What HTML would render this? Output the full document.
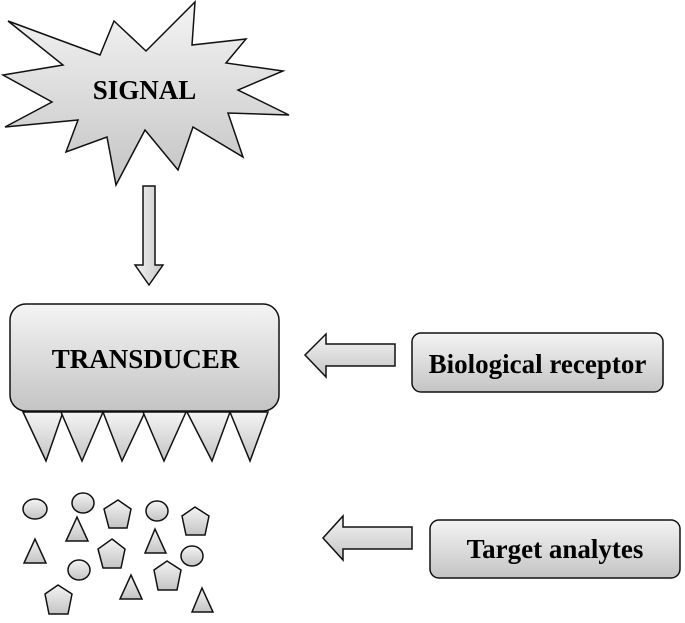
<!DOCTYPE html>
<html><head><meta charset="utf-8"><style>
html,body{margin:0;padding:0;background:#fff;}
svg{display:block;}
text{font-family:"Liberation Serif",serif;font-weight:bold;fill:#000;}
</style></head><body>
<svg width="685" height="623" viewBox="0 0 685 623" xmlns="http://www.w3.org/2000/svg">
<defs>
<linearGradient id="g" x1="0" y1="0" x2="0" y2="1">
<stop offset="0" stop-color="#f4f4f4"/><stop offset="1" stop-color="#c4c4c4"/>
</linearGradient>
<linearGradient id="gh" x1="0" y1="0" x2="1" y2="0">
<stop offset="0" stop-color="#f2f2f2"/><stop offset="1" stop-color="#c8c8c8"/>
</linearGradient>
</defs>
<g stroke="#111" stroke-width="1.5" fill="url(#g)" stroke-linejoin="miter">
<polygon points="8,21 100,55 114,21 146,51 195,2 192,45 246,39 226,63 283,71 238,90 289,115 228,113 243,157 193,127 178,170 145,130 116,185 107,137 66,152 78,120 5,127 52,102 3,75 63,65"/>
<polygon fill="url(#gh)" points="143,186 155,186 155,265 163,265 149,285 135,265 143,265"/>
<rect x="10" y="304" width="269" height="107" rx="16" ry="16"/>
<polygon points="23,412 63,412 46,461"/>
<polygon points="61,412 103,412 82,461"/>
<polygon points="103,412 145,412 122,461"/>
<polygon points="143,412 186,412 164,461"/>
<polygon points="187,412 230,412 212,461"/>
<polygon points="230,412 268,412 250,461"/>
<polygon points="305,355 326,334 326,344 395,344 395,366 326,366 326,377"/>
<polygon points="323,538 343,516 343,527 412,527 412,549 343,549 343,560"/>
<rect x="412" y="333" width="251" height="59" rx="9" ry="9"/>
<rect x="430" y="520" width="250" height="58" rx="9" ry="9"/>
<ellipse cx="35" cy="509" rx="12" ry="10"/>
<ellipse cx="83" cy="503" rx="11" ry="10"/>
<ellipse cx="157" cy="511" rx="11" ry="10"/>
<ellipse cx="192" cy="556" rx="11" ry="10"/>
<ellipse cx="79" cy="570" rx="11" ry="10"/>
<polygon points="118,500 131,509 127,528 109,528 104,509"/>
<polygon points="195,507 209,516 205,535 186,535 182,516"/>
<polygon points="112,539 125,549 121,568 103,568 98,549"/>
<polygon points="167,561 181,570 177,590 158,590 154,570"/>
<polygon points="58,585 72,594 68,614 49,614 45,594"/>
<polygon points="77,517 88,541 66,541"/>
<polygon points="35,539 46,563 24,563"/>
<polygon points="155,529 166,553 145,553"/>
<polygon points="131,575 142,599 120,599"/>
<polygon points="202,588 213,612 192,612"/>
</g>
<text x="144.5" y="99" font-size="27" text-anchor="middle">SIGNAL</text>
<text x="145.5" y="368" font-size="27" text-anchor="middle">TRANSDUCER</text>
<text x="537.5" y="373" font-size="27" text-anchor="middle">Biological receptor</text>
<text x="555" y="558" font-size="27" text-anchor="middle">Target analytes</text>
</svg>
</body></html>
